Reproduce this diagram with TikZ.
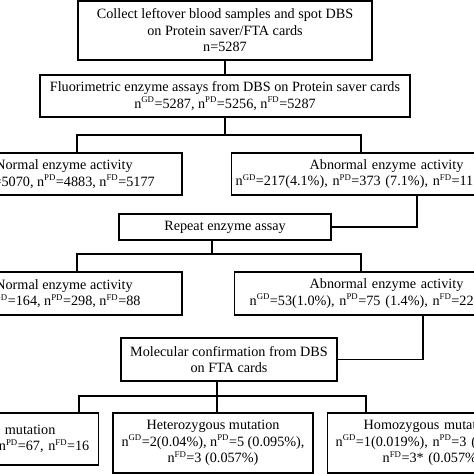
\documentclass[tikz,border=0pt]{standalone}
\usepackage{fontspec}
\setmainfont{Liberation Serif}
\usetikzlibrary{positioning}
\newcommand{\nof}[1]{n\textsuperscript{\fontsize{8.8pt}{9pt}\selectfont #1}}

\begin{document}
\begin{tikzpicture}[
  x=1pt, y=-1pt,
  box/.style={
    rectangle,
    draw=black,
    line width=1.3pt,
    align=center,
    inner sep=0pt,
    font=\fontsize{14.2pt}{16.5pt}\selectfont
  },
  leftcut/.style={box, align=right, text width=250pt, anchor=east},
  rightcut/.style={box, align=left, text width=300pt, anchor=west},
  link/.style={draw=black, line width=1.3pt}
]
\useasboundingbox (0,0) rectangle (474,474);

\node[box, minimum width=294pt, minimum height=59pt] (collect) at (225,30.5) {
  Collect leftover blood samples and spot DBS\\
  on Protein saver/FTA cards\\
  n=5287
};
\node[box, minimum width=370pt, minimum height=42pt] (assay) at (225,96) {
  Fluorimetric enzyme assays from DBS on Protein saver cards\\
  \nof{GD}=5287, \nof{PD}=5256, \nof{FD}=5287
};

\node[box, minimum width=236pt, minimum height=42pt] (normal1) at (64,174) {
  Normal enzyme activity\\
  \nof{GD}=5070, \nof{PD}=4883, \nof{FD}=5177
};
\node[rightcut, inner xsep=4pt, minimum height=42pt] (abnormal1) at (231,174) {
  \hspace*{74pt}Abnormal enzyme activity\\
  \nof{GD}=217(4.1\%), \nof{PD}=373 (7.1\%), \nof{FD}=11
};

\node[box, minimum width=212pt, minimum height=26pt] (repeat) at (225,227) {Repeat enzyme assay};

\node[box, minimum width=236pt, minimum height=43pt] (normal2) at (64,293.5) {
  Normal enzyme activity\\
  \nof{GD}=164, \nof{PD}=298, \nof{FD}=88
};
\node[rightcut, inner xsep=15pt, minimum height=43pt] (abnormal2) at (234,293.5) {
  \hspace*{60pt}Abnormal enzyme activity\\
  \nof{GD}=53(1.0\%), \nof{PD}=75 (1.4\%), \nof{FD}=22
};

\node[box, minimum width=216pt, minimum height=43pt] (molecular) at (229,359.5) {
  Molecular confirmation from DBS\\
  on FTA cards
};

\node[leftcut, inner xsep=9pt, minimum height=52pt] (nomut) at (99,439) {
  No mutation\kern34pt\\
  \nof{PD}=67, \nof{FD}=16
};
\node[box, minimum width=200pt, minimum height=60pt] (hetero) at (213,443) {
  Heterozygous mutation\\
  \nof{GD}=2(0.04\%), \nof{PD}=5 (0.095\%),\\
  \nof{FD}=3 (0.057\%)
};
\node[rightcut, inner xsep=8pt, minimum height=60pt] (homo) at (327,443) {
  \hspace*{28pt}Homozygous mutation\\
  \nof{GD}=1(0.019\%), \nof{PD}=3 (0.057\%),\\
  \hspace*{47pt}\nof{FD}=3* (0.057\%)
};

% split points
\coordinate (split1L) at (77,135);
\coordinate (split1R) at (361,135);
\coordinate (drop1) at (417,227);
\coordinate (split2M) at (212,254);
\coordinate (split2L) at (77,254);
\coordinate (split2R) at (361,254);
\coordinate (drop2) at (423,362);
\coordinate (split3M) at (217,396);
\coordinate (split3L) at (79,396);
\coordinate (split3R) at (366,396);

\draw[link] (collect) -- (assay);
\draw[link] (assay.south) -- (assay.south |- split1L);
\draw[link] (split1L |- normal1.north) -- (split1L) -- (split1R) -- (split1R |- abnormal1.north);
\draw[link] (abnormal1.south -| drop1) |- (repeat.east);

\draw[link] (repeat.south -| split2M) -- (split2M);
\draw[link] (split2L |- normal2.north) -- (split2L) -- (split2R) -- (split2R |- abnormal2.north);
\draw[link] (abnormal2.south -| drop2) |- (molecular.east);

\draw[link] (molecular.south -| split3M) -- (hetero.north -| split3M);
\draw[link] (split3L |- nomut.north) -- (split3L) -- (split3R) -- (split3R |- homo.north);

\end{tikzpicture}
\end{document}
